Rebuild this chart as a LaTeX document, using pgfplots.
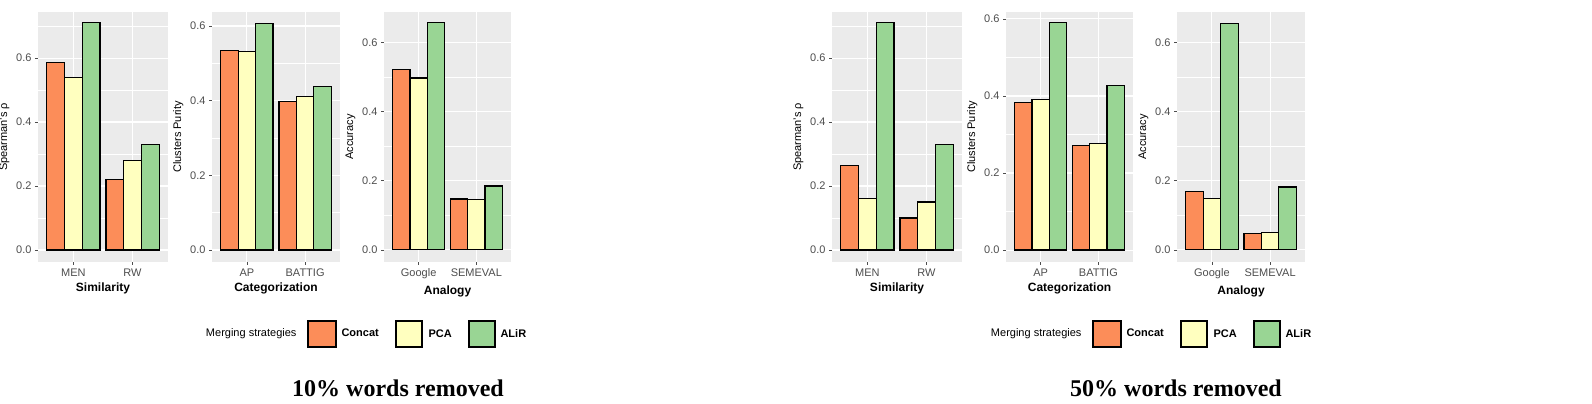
\documentclass[border=0pt]{standalone}
\usepackage{pgfplots}
\pgfplotsset{compat=1.18}
\usepackage{fontspec}
\setmainfont{Liberation Sans}
\newfontfamily\capfont{Liberation Serif}
\definecolor{cA}{HTML}{FC8D59}
\definecolor{cB}{HTML}{FFFFBF}
\definecolor{cC}{HTML}{99D594}
\definecolor{bg}{HTML}{EBEBEB}
\definecolor{tk}{HTML}{4D4D4D}
\pgfplotsset{
 gg/.style={
  scale only axis, width=130pt, height=250pt, anchor=south west,
  xmin=0.4, xmax=2.6, xtick={1,2},
  axis background/.style={fill=bg},
  axis line style={draw=none},
  grid=both,
  major grid style={white, line width=1.1pt},
  minor grid style={white, line width=0.5pt},
  minor y tick num=1, minor x tick num=0, minor tick length=0pt,
  tick align=outside, major tick length=3pt,
  xtick pos=bottom, ytick pos=left,
  tick style={tk, line width=0.6pt},
  ticklabel style={font=\fontsize{11}{12}\selectfont, text=tk},
  yticklabel style={/pgf/number format/.cd, fixed, fixed zerofill, precision=1},
  /pgf/number format/assume math mode=true,
  ytick distance=0.2,
  label style={font=\bfseries\fontsize{12}{13}\selectfont},
  ylabel style={font=\fontsize{11}{12}\selectfont},
  ybar, bar width=0.3,
  every axis plot/.append style={draw=black, line width=1.2pt},
 },
 pA/.style={fill=cA, bar shift=-0.3},
 pB/.style={fill=cB, bar shift=0},
 pC/.style={fill=cC, bar shift=0.3},
}
\begin{document}
\begin{tikzpicture}
\path[use as bounding box] (0pt,0pt) rectangle (1592pt,404pt);
\begin{axis}[gg, at={(38pt,142pt)}, ymin=-0.0375, ymax=0.744, xticklabels={MEN,RW}, xlabel={Similarity}, ylabel={Spearman's ρ}]
\addplot[pA] coordinates {(1,0.587) (2,0.220)};
\addplot[pB] coordinates {(1,0.540) (2,0.280)};
\addplot[pC] coordinates {(1,0.710) (2,0.330)};
\end{axis}
\begin{axis}[gg, at={(212pt,142pt)}, width=128pt, ymin=-0.032, ymax=0.6375, xticklabels={AP,BATTIG}, xlabel={Categorization}, ylabel={Clusters Purity}]
\addplot[pA] coordinates {(1,0.535) (2,0.398)};
\addplot[pB] coordinates {(1,0.532) (2,0.412)};
\addplot[pC] coordinates {(1,0.607) (2,0.437)};
\end{axis}
\begin{axis}[gg, at={(384pt,142pt)}, width=127pt, ymin=-0.035, ymax=0.688, xticklabels={Google,SEMEVAL}, xlabel={Analogy}, ylabel={Accuracy}]
\addplot[pA] coordinates {(1,0.522) (2,0.147)};
\addplot[pB] coordinates {(1,0.497) (2,0.145)};
\addplot[pC] coordinates {(1,0.657) (2,0.185)};
\end{axis}
\begin{axis}[gg, at={(832pt,142pt)}, ymin=-0.0375, ymax=0.744, xticklabels={MEN,RW}, xlabel={Similarity}, ylabel={Spearman's ρ}]
\addplot[pA] coordinates {(1,0.265) (2,0.100)};
\addplot[pB] coordinates {(1,0.160) (2,0.150)};
\addplot[pC] coordinates {(1,0.710) (2,0.330)};
\end{axis}
\begin{axis}[gg, at={(1006pt,142pt)}, width=127pt, ymin=-0.031, ymax=0.618, xticklabels={AP,BATTIG}, xlabel={Categorization}, ylabel={Clusters Purity}]
\addplot[pA] coordinates {(1,0.383) (2,0.272)};
\addplot[pB] coordinates {(1,0.390) (2,0.277)};
\addplot[pC] coordinates {(1,0.590) (2,0.427)};
\end{axis}
\begin{axis}[gg, at={(1177pt,142pt)}, width=128pt, ymin=-0.035, ymax=0.688, xticklabels={Google,SEMEVAL}, xlabel={Analogy}, ylabel={Accuracy}]
\addplot[pA] coordinates {(1,0.170) (2,0.048)};
\addplot[pB] coordinates {(1,0.148) (2,0.050)};
\addplot[pC] coordinates {(1,0.655) (2,0.182)};
\end{axis}
\foreach \o in {0pt,785pt}{
 \begin{scope}[xshift=\o, x=1pt, y=1pt]
 \node[anchor=east, font=\fontsize{11}{12}\selectfont] at (300,70) {Merging strategies};
 \draw[fill=cA, line width=1.2pt] (308,57) rectangle (336,83);
 \node[anchor=west, font=\bfseries\fontsize{11}{12}\selectfont] at (338,71) {Concat};
 \draw[fill=cB, line width=1.2pt] (396,57) rectangle (422,83);
 \node[anchor=west, font=\bfseries\fontsize{11}{12}\selectfont] at (425,70) {PCA};
 \draw[fill=cC, line width=1.2pt] (469,57) rectangle (495,83);
 \node[anchor=west, font=\bfseries\fontsize{11}{12}\selectfont] at (497,70) {ALiR};
 \end{scope}}
\node[font=\capfont\bfseries\fontsize{24}{26}\selectfont] at (398pt,16pt) {10\% words removed};
\node[font=\capfont\bfseries\fontsize{24}{26}\selectfont] at (1176pt,16pt) {50\% words removed};
\end{tikzpicture}
\end{document}
